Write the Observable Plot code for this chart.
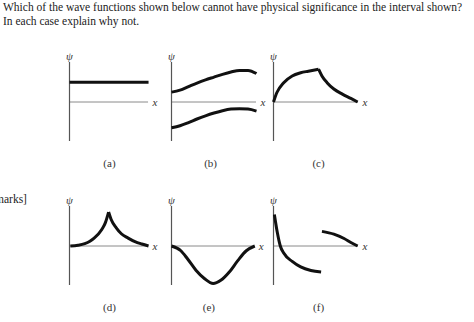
<!DOCTYPE html>
<html>
<head>
<meta charset="utf-8">
<script src="https://cdn.jsdelivr.net/npm/d3@7"></script>
<script src="https://cdn.jsdelivr.net/npm/@observablehq/plot@0.6"></script>
<style>
  body { margin: 0; background: #fff; }
  #wrap { position: relative; width: 474px; height: 322px; overflow: hidden; font-family: "Liberation Serif", serif; color: #222; }
  #wrap svg { position: absolute; left: 0; top: 0; }
  #prompt { position: absolute; left: 3px; top: 0px; font-size: 11.5px; line-height: 14px; white-space: nowrap; }
  #marks { position: absolute; left: -5px; top: 193px; font-size: 11.5px; }
</style>
</head>
<body>
<div id="wrap">
  <div id="prompt">Which of the wave functions shown below cannot have physical significance in the interval shown?<br>In each case explain why not.</div>
  <div id="marks">marks]</div>
</div>
<script>
// Six sketches of ψ(x), laid out three per row.
const panelIds = ["a", "b", "c", "d", "e", "f"];
const panelCol = [0, 1, 2, 0, 1, 2];
const panelRow = [0, 0, 0, 1, 1, 1];
const axisEnd  = [0.93, 1, 1, 0.93, 0.98, 1];     // where each x axis stops
const captionX = [0.47, 0.46, 0.53, 0.47, 0.44, 0.53];

// (a) constant
const aX   = [0, 0.93];
const aPsi = [0.5, 0.5];

// (b) two branches at once
const bX        = [0, 0.1, 0.2, 0.3, 0.4, 0.5, 0.6, 0.7, 0.8, 0.9, 1];
const bUpperPsi = [0.25, 0.30, 0.39, 0.48, 0.56, 0.63, 0.70, 0.76, 0.80, 0.80, 0.72];
const bLowerPsi = [-0.65, -0.60, -0.52, -0.43, -0.35, -0.28, -0.22, -0.18, -0.17, -0.18, -0.23];

// (c) rise to a kink, then decay
const cRiseX   = [0, 0.04, 0.12, 0.22, 0.32, 0.41, 0.53];
const cRisePsi = [0, 0.24, 0.49, 0.66, 0.74, 0.78, 0.83];
const cFallX   = [0.53, 0.57, 0.63, 0.71, 0.81, 0.91, 0.99];
const cFallPsi = [0.83, 0.66, 0.49, 0.33, 0.20, 0.09, 0];

// (d) cusp
const dRiseX   = [0.01, 0.1, 0.18, 0.24, 0.29, 0.38, 0.42, 0.46];
const dRisePsi = [0, 0.02, 0.06, 0.12, 0.20, 0.42, 0.58, 0.86];
const dFallX   = [0.46, 0.49, 0.55, 0.61, 0.69, 0.77, 0.85, 0.93];
const dFallPsi = [0.86, 0.67, 0.46, 0.31, 0.20, 0.11, 0.05, 0];

// (e) single dip
const eX   = [0, 0.11, 0.19, 0.29, 0.39, 0.49, 0.58, 0.68, 0.78, 0.88, 0.98];
const ePsi = [0, -0.12, -0.33, -0.62, -0.83, -0.95, -0.87, -0.66, -0.37, -0.12, 0];

// (f) discontinuous
const f1X   = [0.01, 0.045, 0.08, 0.12, 0.22, 0.32, 0.44, 0.56];
const f1Psi = [0.80, 0.34, 0, -0.18, -0.39, -0.53, -0.62, -0.66];
const f2X   = [0.57, 0.71, 0.83, 0.91, 0.99];
const f2Psi = [0.37, 0.30, 0.19, 0.09, 0];

const segments = [
  {panel: 0, xs: aX, ps: aPsi},
  {panel: 1, xs: bX, ps: bUpperPsi},
  {panel: 1, xs: bX, ps: bLowerPsi},
  {panel: 2, xs: cRiseX, ps: cRisePsi},
  {panel: 2, xs: cFallX, ps: cFallPsi},
  {panel: 3, xs: dRiseX, ps: dRisePsi},
  {panel: 3, xs: dFallX, ps: dFallPsi},
  {panel: 4, xs: eX, ps: ePsi},
  {panel: 5, xs: f1X, ps: f1Psi},
  {panel: 5, xs: f2X, ps: f2Psi}
];

const curveRows = segments.flatMap((s, k) =>
  s.xs.map((x, i) => ({seg: k, col: panelCol[s.panel], row: panelRow[s.panel], x, psi: s.ps[i]}))
);
const panelRows = panelIds.map((id, i) => ({
  id, col: panelCol[i], row: panelRow[i], end: axisEnd[i], cx: captionX[i]
}));

const chart = Plot.plot({
  width: 474,
  height: 322,
  marginLeft: 68,
  marginRight: 116,
  marginTop: 61,
  marginBottom: 36,
  x: {domain: [0, 1], axis: null},
  y: {domain: [-1, 1], axis: null},
  fx: {domain: [0, 1, 2], axis: null, paddingInner: 0.17},
  fy: {domain: [0, 1], axis: null, paddingInner: 0.448},
  style: {fontFamily: "'Liberation Serif', serif", background: "transparent", color: "#222"},
  marks: [
    Plot.ruleY(panelRows, {fx: "col", fy: "row", y: 0, x1: 0, x2: "end", stroke: "#8a8a8a", strokeWidth: 1}),
    Plot.ruleX(panelRows, {fx: "col", fy: "row", x: 0, y1: -1, y2: 1, stroke: "#555", strokeWidth: 1.2}),
    Plot.line(curveRows, {
      fx: "col", fy: "row", x: "x", y: "psi", z: "seg",
      curve: "monotone-x", stroke: "#111", strokeWidth: 3, strokeLinecap: "butt"
    }),
    Plot.text(panelRows, {fx: "col", fy: "row", x: 0, y: 1, text: () => "ψ", dy: -6, fontStyle: "italic", fontSize: 11, fill: "#333"}),
    Plot.text(panelRows, {fx: "col", fy: "row", x: "end", y: 0, text: () => "x", dx: 4, textAnchor: "start", fontStyle: "italic", fontSize: 11, fill: "#333"}),
    Plot.text(panelRows, {fx: "col", fy: "row", x: "cx", y: -1, text: d => `(${d.id})`, dy: 22, fontSize: 11, fill: "#333", ariaLabel: "caption"})
  ]
});

// italic letter inside upright parentheses
chart.querySelectorAll('g[aria-label="caption"] text').forEach(t => {
  const s = t.textContent;
  const letter = s.slice(1, -1);
  t.textContent = "";
  t.append("(");
  const span = document.createElementNS("http://www.w3.org/2000/svg", "tspan");
  span.setAttribute("font-style", "italic");
  span.textContent = letter;
  t.append(span);
  t.append(")");
});

document.getElementById("wrap").prepend(chart);
</script>
</body>
</html>
